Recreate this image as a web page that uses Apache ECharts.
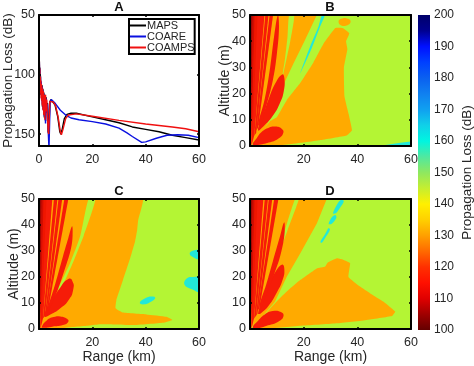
<!DOCTYPE html>
<html><head><meta charset="utf-8">
<style>html,body{margin:0;padding:0;background:#fff}#c{width:474px;height:366px}</style>
<script src="https://cdn.jsdelivr.net/npm/echarts@6/dist/echarts.min.js"></script></head>
<body><div id="c"></div>
<script>
const rangeTicks=[0,20,40,60];
const mapsLine=[[0,68],[0.1,85],[0.2,99],[0.3,94],[0.4,108],[0.55,101],[0.7,117],[0.85,106],[1,121],[1.15,109],[1.3,127],[1.45,112],[1.6,129],[1.8,115],[2,136],[2.2,117],[2.45,139],[2.7,119],[2.95,130],[3.2,124],[3.45,148],[3.7,150],[4.05,123],[4.5,121],[5,122],[6,125.5],[7,135],[7.8,148],[8.2,150],[8.6,147],[9.5,137],[10.5,133.5],[12,132.5],[14,132.5],[20,135.5],[25,138],[30,140.5],[35,144],[40,146],[45,148],[50,151],[55,153],[60,155]];
const coareLine=[[0,68],[0.1,86],[0.2,98],[0.3,95],[0.4,110],[0.55,102],[0.7,116],[0.85,106],[1,122],[1.15,110],[1.3,125],[1.45,113],[1.6,130],[1.8,116],[2,135],[2.2,118],[2.45,141],[2.7,120],[2.95,132],[3.2,125],[3.5,150],[3.75,162],[3.95,162],[4.15,124],[4.6,121],[6,124],[8,130],[10,134],[12,136.5],[15,138],[20,139.5],[25,141.5],[30,145],[33,149],[35,152],[38.5,157],[40,156.5],[44,153.5],[48,151],[52,150.5],[56,151],[60,153]];
const coampsLine=[[0,68],[0.1,85],[0.2,100],[0.3,95],[0.4,110],[0.5,102],[0.6,116],[0.7,105],[0.8,120],[0.9,108],[1,122],[1.1,110],[1.2,126],[1.35,112],[1.5,130],[1.65,114],[1.8,134],[2,117],[2.2,138],[2.45,117],[2.7,131],[2.9,121],[3.15,135],[3.45,148],[3.65,150],[4.05,122.5],[4.6,121.5],[5.3,123],[6.2,126],[7.2,136],[8,148],[8.4,150.5],[9,146],[10,137],[11,134],[14,133],[20,135],[30,138.5],[40,141.5],[50,144],[55,145.5],[60,148]];
const barStops=[[100,'#640000'],[105,'#a00000'],[110,'#e00000'],[115,'#ff1000'],[120,'#ff3000'],[125,'#ff6a00'],[130,'#ffa000'],[135,'#ffd000'],[140,'#fff000'],[145,'#c5ee30'],[150,'#8ee860'],[155,'#50e8a0'],[160,'#00f5e0'],[165,'#10d0e8'],[170,'#10a0f0'],[175,'#1080f0'],[180,'#0a60f0'],[185,'#0040ff'],[190,'#0010ff'],[195,'#000090'],[200,'#00006a']];

const LIME='#b4f534',ORANGE='#ffaa00',RED='#f61c08',CYAN='#22e8d8';
const darkFan1=[[0.2,0],[0,0],[0,50],[0.5,50]];
const darkFan2=[[0.3,0],[0.5,50],[1.0,50]];
const darkFan3=[[0.5,0],[1.0,50],[1.7,50]];
const darkFan4=[[0.7,0],[1.7,50],[2.8,50]];

const bLowerOrange=[[1,0],[7.5,9.5],[10,11],[13.7,17.5],[18.7,24],[23.7,32],[27.4,39],[31.8,45],[34.5,45],[37,43],[35.8,40],[36.3,37],[35,30],[35.2,19],[36.7,12.4],[38,6],[36,4],[26,2.2],[14,0.6]];
const bUpperOrange=[[0,0],[0,50],[24.9,50],[20.5,40.5],[16.2,31.5],[13,24.5],[9.3,15],[7.5,10.5],[4,4]];
const bIsland=[[33,47.5],[34,48.6],[36.5,48.6],[37.5,47.5],[36.5,46.2],[34,46]];
const bCyan=[[18.7,27.7],[22.4,38],[25.5,45.5],[26.8,50],[27.9,50],[26.1,45.5],[23,37.3]];
const bBottomCyan=[[48,0],[60,0],[60,1.7],[56,1.2]];
const bStreak=[[8.5,12],[11,21],[13,33],[14,42],[14.6,50],[16.5,50],[15,40],[12.5,28],[9.5,14]];
const bWedgeA=[[0.5,0],[0,50],[5.4,50],[1.6,4]];
const bWedgeB=[[1.6,4],[5.7,50],[6.9,50],[2.3,5]];
const bWedgeC=[[2.3,6],[7.3,50],[8.6,50],[3,7]];
const bLobe1=[[1,0.5],[2.5,3],[4.5,5.5],[7,7],[9.5,7.4],[11.8,6.6],[12.4,5],[10.5,2.8],[7,1.3],[3.5,0.5]];
const bLobe2=[[3,6],[5,12],[7,18],[9.5,24],[12,27.3],[12.8,26],[12.6,21],[11,16],[8.5,11.5],[5.5,8]];
const bLobe3=[[3,8],[5.5,18],[7.5,30],[9,42],[10.4,50],[10.8,45],[10,35],[8.5,25],[6,15],[4,8]];

const cOrange=[[0,0],[0,50],[39,50],[38.4,46.4],[37.2,41.9],[36.8,38],[36,33.6],[34,26.6],[31.5,18.8],[29,11],[28.7,8],[31.5,6.3],[40.3,5.6],[47.8,4.7],[50,3.5],[46.5,2.4],[35.3,1.5],[22.8,1.8],[19,1.3],[10,0.5]];
const cStreak=[[7,15],[11.5,25],[15.5,36],[18.6,50],[21.2,50],[16.8,36],[12.5,25],[8,15]];
const cIslandA=[[37.8,10],[39.5,11.6],[42,12.5],[43.6,12],[42,10.5],[39.5,9.5]];
const cIslandB=[[54.6,17],[55.5,19.5],[58,20],[60,19.8],[60,14.4],[58,15]];
const cIslandC=[[56.5,29],[58,30.2],[60,30],[60,27],[58,27.5]];
const cWedgeA=[[0.5,0],[0,50],[5,50],[1.5,4]];
const cWedgeB=[[1.5,4],[5.6,50],[6.9,50],[2.2,5]];
const cWedgeC=[[2.2,5],[7.3,50],[8.7,50],[2.8,6]];
const cWedgeD=[[2.8,7],[9.5,50],[11,50],[3.5,8]];
const cLobe1=[[1,0.8],[3,3.4],[5.5,4.6],[8,4.8],[10.5,3.9],[11,2.8],[9,1.5],[5,0.9],[2,0.5]];
const cLobe2=[[2,5],[5,11],[8,16],[11,19.2],[12.5,18.5],[12.8,15],[11,11],[8,8],[5,6]];
const cLobe3=[[3,7],[6,17],[9,28],[11,35],[12.4,39.5],[12.6,36],[12,31],[10,24],[7,15],[4,8]];

const dUpperOrange=[[0,0],[0,50],[28.6,50],[24.9,40.6],[18.7,29],[13.7,20.1],[9.3,10.5],[4,4]];
const dLowerOrange=[[1.2,0],[9.3,9.9],[13.7,14.4],[18.7,18.8],[24.9,23.3],[28,24],[28.9,25.5],[32.4,27.2],[34.3,26.8],[37.3,25.3],[36.7,20],[41,16.3],[44.8,13.7],[49.8,10.5],[54.1,6.7],[52.9,5],[43.6,3.5],[32.4,2.2],[20,1.3]];
const dStreak=[[5,13],[8.6,25],[13,38],[16.8,50],[18.2,50],[14,38],[10,27],[6,15]];
const dCyanA=[[30.9,44.5],[32.5,48],[33.8,49.6],[35,49.2],[33.5,46.5],[32,44.5]];
const dCyanB=[[29.3,40.4],[30.5,43],[31.8,43.8],[32.2,42.8],[30.5,40.5]];
const dCyanC=[[26.2,33.5],[28,36.5],[29.3,38.8],[29.8,38.2],[28,35],[26.8,33.2]];
const dWedgeA=[[0.5,0],[0,50],[5,50],[1.5,4]];
const dWedgeB=[[1.5,4],[5.5,50],[6.7,50],[2.2,5]];
const dWedgeC=[[2.2,5],[7,50],[8.3,50],[2.8,6]];
const dWedgeD=[[2.8,7],[9,50],[10.6,50],[3.5,8]];
const dLobe1=[[1,0.6],[3,3.2],[5.5,5.6],[8.5,6.9],[11.5,6.5],[12.5,5],[10.5,2.8],[6,1.2],[2.5,0.3]];
const dLobe2=[[3,6],[5,12],[7,17],[9.5,22],[12,24.8],[12.8,23],[12.2,19],[10,14],[7,9],[4,6]];
const dLobe3=[[3.5,9],[6,17],[8.5,26],[11,35],[12.7,41],[12.9,37],[11.5,29],[9,21],[6,13],[4,8]];

const darkLayers=[[darkFan4,'#f01600'],[darkFan3,'#d20c00'],[darkFan2,'#a00400'],[darkFan1,'#640000']];
const panelB=[[bUpperOrange,ORANGE,0],[bLowerOrange,ORANGE,0.1],[bIsland,ORANGE,0.5],[bCyan,CYAN,0.2],[bBottomCyan,CYAN,0],[bStreak,LIME,0.2],
  [bWedgeA,RED,0],[bWedgeB,RED,0],[bWedgeC,RED,0],[bLobe1,RED,0.5],[bLobe2,RED,0.5],[bLobe3,RED,0.4],...darkLayers];
const panelC=[[cOrange,ORANGE,0.1],[cStreak,LIME,0.2],[cIslandA,CYAN,0.5],[cIslandB,CYAN,0.5],[cIslandC,CYAN,0.5],
  [cWedgeA,RED,0],[cWedgeB,RED,0],[cWedgeC,RED,0],[cWedgeD,RED,0],[cLobe1,RED,0.5],[cLobe2,RED,0.6],[cLobe3,RED,0.4],...darkLayers];
const panelD=[[dUpperOrange,ORANGE,0],[dLowerOrange,ORANGE,0.1],[dStreak,LIME,0.2],[dCyanA,CYAN,0.3],[dCyanB,CYAN,0.3],[dCyanC,CYAN,0.3],
  [dWedgeA,RED,0],[dWedgeB,RED,0],[dWedgeC,RED,0],[dWedgeD,RED,0],[dLobe1,RED,0.5],[dLobe2,RED,0.5],[dLobe3,RED,0.4],...darkLayers];

const TXT='#262626',FF='"Liberation Sans",Arial,sans-serif';
const grids=[{left:39,top:15,width:160,height:131},{left:250,top:15,width:161,height:131},{left:39,top:199,width:160,height:130},{left:250,top:199,width:161,height:130},{left:418,top:15,width:12,height:315}].map(g=>Object.assign(g,{outerBoundsMode:'none'}));
const frameLine={show:true,onZero:false,lineStyle:{color:'#000',width:2}};
const tick={show:true,inside:true,length:2,lineStyle:{color:'#000',width:1.5}};
function xAxes(i,name,fmt){return [
 {type:'value',gridIndex:i,min:0,max:60,interval:20,position:'bottom',z:5,axisLine:frameLine,axisTick:tick,splitLine:{show:false},
  axisLabel:{color:TXT,fontSize:12.5,fontFamily:FF,margin:7,formatter:fmt},name:name,nameLocation:'middle',nameGap:20,nameTextStyle:{color:TXT,fontSize:14,fontFamily:FF}},
 {type:'value',gridIndex:i,min:0,max:60,interval:20,position:'top',z:5,axisLine:frameLine,axisTick:tick,axisLabel:{show:false},splitLine:{show:false}}];}
function yAxes(i,o){return [
 Object.assign({type:'value',gridIndex:i,min:0,max:50,interval:10,position:'left',z:5,axisLine:frameLine,axisTick:tick,splitLine:{show:false},
  axisLabel:{color:TXT,fontSize:12.5,fontFamily:FF,margin:4},name:'Altitude (m)',nameLocation:'middle',nameMoveOverlap:false,nameGap:18,nameRotate:90,nameTextStyle:{color:TXT,fontSize:14,fontFamily:FF}},o||{}),
 Object.assign({type:'value',gridIndex:i,min:0,max:50,interval:10,position:'right',z:5,axisLine:frameLine,axisTick:tick,axisLabel:{show:false},splitLine:{show:false}},o&&o.inverse?{min:o.min,max:o.max,interval:o.interval,inverse:true}:{})];}
const noZero=v=>v===0?'':v;
const xAxis=[...xAxes(0,'',v=>v),...xAxes(1,'',noZero),...xAxes(2,'Range (km)',noZero),...xAxes(3,'Range (km)',noZero),
 {type:'value',gridIndex:4,min:0,max:1,show:false}];
const yAxis=[...yAxes(0,{min:50,max:160,interval:50,inverse:true,name:'Propagation Loss (dB)',nameGap:24,nameTextStyle:{color:TXT,fontSize:13.5,fontFamily:FF},axisLabel:{color:TXT,fontSize:12.5,fontFamily:FF,margin:4,formatter:v=>v%50?'':v}}),
 ...yAxes(1),...yAxes(2),...yAxes(3,{name:''}),
 {type:'value',gridIndex:4,min:100,max:200,interval:10,position:'right',axisLine:{show:false},axisTick:{show:false},splitLine:{show:false},
  axisLabel:{color:TXT,fontSize:12,fontFamily:FF,margin:4},name:'Propagation Loss (dB)',nameLocation:'middle',nameGap:30,nameRotate:90,nameTextStyle:{color:TXT,fontSize:13.5,fontFamily:FF}}];

function shape(g,pts,color,sm){return {type:'custom',xAxisIndex:g*2,yAxisIndex:g*2,clip:true,data:pts,silent:true,animation:false,
 encode:{x:0,y:1},
 renderItem:(p,api)=>{ if(p.dataIndex!==0) return null;
   return {type:'polygon',shape:{points:pts.map(q=>api.coord(q)),smooth:sm||0},style:{fill:color}};}};}
function bgRect(g){return shape(g,[[0,0],[0,50],[60,50],[60,0]],LIME,0);}
const series=[];
[[1,panelB],[2,panelC],[3,panelD]].forEach(([g,layers])=>{series.push(bgRect(g));layers.forEach(l=>series.push(shape(g,l[0],l[1],l[2])));});
[['MAPS',mapsLine,'#000'],['COARE',coareLine,'#0a10e0'],['COAMPS',coampsLine,'#f01010']].forEach(([n,d,c])=>series.push({name:n,type:'line',xAxisIndex:0,yAxisIndex:0,data:d,showSymbol:false,animation:false,clip:true,lineStyle:{color:c,width:1.4},itemStyle:{color:c}}));
series.push({type:'custom',xAxisIndex:8,yAxisIndex:8,clip:false,silent:true,animation:false,data:barStops.map(s=>[0.5,s[0]]),encode:{x:0,y:1},
 renderItem:(p,api)=>{ if(p.dataIndex!==0) return null;
   const a=api.coord([0,200]),b=api.coord([1,100]);
   return {type:'rect',shape:{x:a[0],y:a[1],width:b[0]-a[0],height:b[1]-a[1]},
     style:{fill:new echarts.graphic.LinearGradient(0,1,0,0,barStops.map(s=>({offset:(s[0]-100)/100,color:s[1]})))}};}});

const titleOf=(t,x,y)=>({text:t,left:x,top:y,padding:0,textAlign:'center',textStyle:{fontSize:13,fontWeight:'bold',color:'#111',fontFamily:FF}});
const chart=echarts.init(document.getElementById('c'),null,{renderer:'canvas'});
chart.setOption({animation:false,backgroundColor:'#fff',
 title:[titleOf('A',119,1),titleOf('B',330,1),titleOf('C',119,185),titleOf('D',330,185)],
 grid:grids,xAxis,yAxis,series,
 legend:{show:true,orient:'vertical',left:129,top:19,padding:[1,0,1,1],itemGap:0,itemWidth:16,itemHeight:14,icon:'path://M0 6H16V8H0Z',backgroundColor:'#fff',borderColor:'#000',borderWidth:2,
  data:['MAPS','COARE','COAMPS'],textStyle:{fontSize:11,color:TXT,fontFamily:FF,padding:[0,0,0,-4]}}
});
</script></body></html>
